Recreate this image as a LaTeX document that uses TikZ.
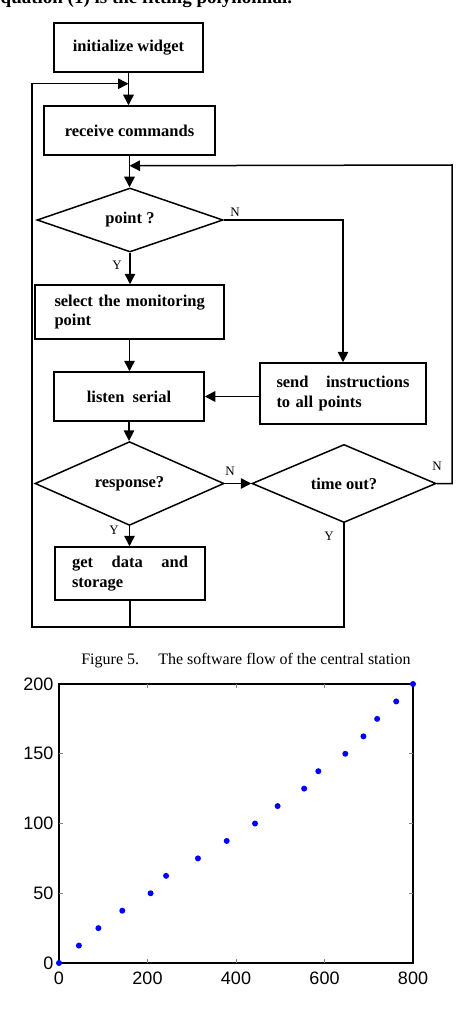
\documentclass[tikz,border=0pt]{standalone}
\usepackage{fontspec}
\setmainfont{Liberation Serif}
\newfontfamily\plotfont{Liberation Sans}
\usetikzlibrary{shapes.geometric,arrows.meta}

\begin{document}
\begin{tikzpicture}
  [x=1pt,y=-1pt,line width=1.5pt,
   every node/.style={font=\bfseries\fontsize{16.5}{19.5}\selectfont},
   box/.style={draw,rectangle,inner sep=0pt},
   decision/.style={draw,diamond,inner sep=0pt},
   arr/.style={-{Triangle[length=10.5pt,width=10.5pt]}},
   yn/.style={font=\fontsize{13}{15}\selectfont,inner sep=0pt},
   tick label/.style={font=\plotfont\fontsize{18}{20}\selectfont,inner sep=0pt}]
  \useasboundingbox (0,0) rectangle (474,1016);

  % text line cut off at the top
  \node[anchor=base west,inner sep=0pt,font=\bfseries\fontsize{19}{22}\selectfont] (head) at (-8.5,3.5) {equation (1) is the fitting polynomial.};

  % flow chart
  \node[box,minimum width=149pt,minimum height=49pt] (init) at (128.5,47.5) {initialize widget};
  \node[box,minimum width=171pt,minimum height=49pt] (recv) at (129.5,130.5) {receive commands};
  \node[decision,minimum width=186pt,minimum height=64pt] (point) at (130,220) {point ?};
  \node[box,minimum width=189pt,minimum height=54pt,text width=172pt,align=left] (select) at (129.5,312) {\hspace*{11pt}select the monitoring\\\hspace*{11pt}point};
  \node[box,minimum width=150pt,minimum height=49pt] (listen) at (129,396.5) {listen\ \ serial};
  \node[box,minimum width=166pt,minimum height=61pt,text width=133pt,align=left] (send) at (343,393.5) {send\hfill instructions\\to all points};
  \node[decision,minimum width=189pt,minimum height=65pt] (resp) at (129.5,483.5) {response?};
  \node[decision,minimum width=184pt,minimum height=64pt] (tout) at (344,483.5) {time out?};
  \node[box,minimum width=150pt,minimum height=53pt,text width=116pt,align=left] (get) at (130,573.5) {get\hfill data\hfill and\\storage};

  \node[yn] (n1) at (235,212) {N};
  \node[yn] (y1) at (117,265) {Y};
  \node[yn] (n2) at (230,471) {N};
  \node[yn] (y2) at (114,530) {Y};
  \node[yn] (n3) at (437,466) {N};
  \node[yn] (y3) at (329,536) {Y};

  \coordinate (jl) at ([yshift=-11pt]init.south);
  \coordinate (jr) at ([yshift=-10pt]recv.south);
  \coordinate (bl) at (32,627);
  \coordinate (rr) at (452,165);

\foreach \a/\b in {init/recv,recv/point,point/select,select/listen,listen/resp,resp/get}
   \draw[arr] (\a.south) -- (\a.south |- \b.north);

  \draw[arr] (point.east) -- (point.east -| send.north) -- (send.north);
  \draw[arr] (send.west |- listen.east) -- (listen.east);
  \draw[arr] (resp.east) -- (tout.west);
  \draw[arr] (tout.east) -- (tout.east -| rr) -- (rr) -- (jr);
  \draw[arr] (tout.south) -- (tout.south |- bl) -- (bl) -- (bl |- jl) -- (jl);
  \draw (get.south) -- (get.south |- bl);

  \node[font=\fontsize{16}{18}\selectfont] (cap) at (246,661) {Figure 5.\hspace{1.2em}The software flow of the central station};

  % plot
  \begin{scope}[shift={(59,963)},x=0.4425pt,y=1.395pt]
    \draw[line width=1.3pt] (0,0) rectangle (800,200);
    \foreach \t in {200,400,600} {
      \draw[line width=0.6pt,gray] (\t,0) -- ++(0,3);
      \draw[line width=0.6pt,gray] (\t,200) -- ++(0,-3);
    }
    \foreach \t in {50,100,150} {
      \draw[line width=0.6pt,gray] (0,\t) -- ++(9,0);
      \draw[line width=0.6pt,gray] (800,\t) -- ++(-9,0);
    }
    \foreach \t in {0,200,400,600,800}
      \node[tick label,anchor=north] (xl\t) at (\t,-6) {\t};
    \foreach \t in {0,50,100,150,200}
      \node[tick label,anchor=east] (yl\t) at (-11,\t) {\t};
    \foreach \px/\py in {0/0,45/12.5,89/25,143/37.5,207/50,242/62.5,314/75,379/87.5,443/100,494/112.5,554/125,586/137.5,647/150,688/162.5,719/175,762/187.5,800/200}
      \fill[blue] (\px,\py) circle[radius=3pt];
  \end{scope}

  \end{tikzpicture}
\end{document}
